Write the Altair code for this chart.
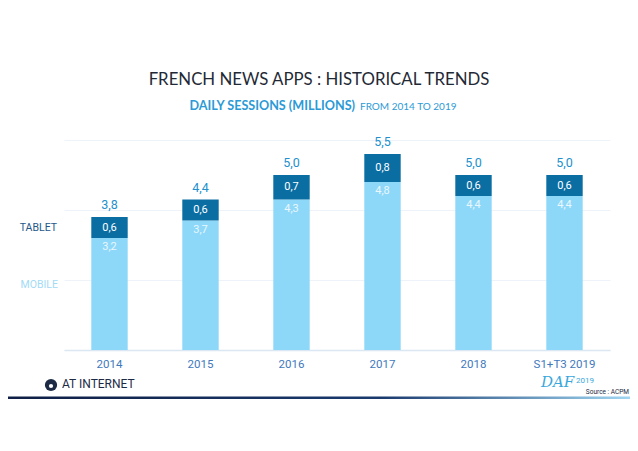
import altair as alt
import pandas as pd

years = ["2014", "2015", "2016", "2017", "2018", "S1+T3 2019"]
mobile = [3.2, 3.7, 4.3, 4.8, 4.4, 4.4]
tablet = [0.6, 0.6, 0.7, 0.8, 0.6, 0.6]
total = [3.8, 4.4, 5.0, 5.5, 5.0, 5.0]

df = pd.DataFrame({"year": years, "mobile": mobile, "tablet": tablet, "total": total})

C_MOB = "#8dd8f8"
C_TAB = "#0b6ea3"
C_TOT = "#2290cd"
C_YEAR = "#3f79bd"
NUMFONT = "Roboto"

base = alt.Chart(df).transform_calculate(
    top="datum.mobile + datum.tablet",
    mid="datum.mobile + datum.tablet / 2",
    lm="replace(format(datum.mobile, '.1f'), '.', ',')",
    lt="replace(format(datum.tablet, '.1f'), '.', ',')",
    ltot="replace(format(datum.total, '.1f'), '.', ',')",
)

xenc = alt.X(
    "year:N",
    sort=years,
    scale=alt.Scale(paddingInner=0.6, paddingOuter=0.3),
    axis=alt.Axis(
        title=None, labelAngle=0, ticks=False, domainColor="#dbe8f4", domainWidth=1.5,
        labelColor=C_YEAR, labelFont=NUMFONT, labelFontSize=11.5, labelPadding=8, grid=False,
    ),
)
yscale = alt.Scale(domain=[0, 6], nice=False)
yaxis = alt.Axis(
    title=None, labels=False, ticks=False, domain=False, grid=True,
    gridColor="#eef3f9", gridWidth=1, values=[0, 1, 2, 3, 4, 5, 6],
)

bars_mob = base.mark_bar(color=C_MOB).encode(
    x=xenc, y=alt.Y("mobile:Q", scale=yscale, axis=yaxis)
)
bars_tab = base.mark_bar(color=C_TAB).encode(
    x=alt.X("year:N", sort=years), y=alt.Y("mobile:Q"), y2="top:Q"
)
lab_tot = base.mark_text(
    font=NUMFONT, fontSize=12.5, color=C_TOT, dy=-12, baseline="middle"
).encode(x=alt.X("year:N", sort=years), y="top:Q", text="ltot:N")
lab_tab = base.mark_text(
    font=NUMFONT, fontSize=11, color="#ffffff", baseline="middle"
).encode(x=alt.X("year:N", sort=years), y="mid:Q", text="lt:N")
lab_mob = base.mark_text(
    font=NUMFONT, fontSize=11, color="#eaf7fe", dy=9, baseline="middle"
).encode(x=alt.X("year:N", sort=years), y="mobile:Q", text="lm:N")


def note(txt, x, y, **kw):
    return alt.Chart(pd.DataFrame({"t": [txt]})).mark_text(**kw).encode(
        x=alt.value(x), y=alt.value(y), text="t:N"
    )


title = note("FRENCH NEWS APPS : HISTORICAL TRENDS", 255, -55, font="Lato",
             fontSize=16.8, color="#1f2a36", align="center", baseline="alphabetic")
sub1 = note("DAILY SESSIONS (MILLIONS)", 291, -30, font="Lato", fontWeight="bold",
            fontSize=12.6, color="#2b9ad6", align="right", baseline="alphabetic")
sub2 = note("FROM 2014 TO 2019", 296, -30, font="Lato", fontSize=10,
            color="#2b9ad6", align="left", baseline="alphabetic")
tab_lbl = note("TABLET", -7, 88, font=NUMFONT, fontSize=10.5, color="#24578a",
               align="right", baseline="middle")
mob_lbl = note("MOBILE", -6, 145, font=NUMFONT, fontSize=10.5, color="#a3dbf5",
               align="right", baseline="middle")

icon = alt.Chart(pd.DataFrame({"t": [1]})).mark_point(
    filled=True, color="#1c2a45", size=150, opacity=1
).encode(x=alt.value(-13), y=alt.value(245))
icon_in = alt.Chart(pd.DataFrame({"t": [1]})).mark_point(
    filled=True, color="#ffffff", size=18, opacity=1
).encode(x=alt.value(-13), y=alt.value(246))
atint = note("AT INTERNET", -2, 244, font="Roboto", fontSize=12, color="#1c2a45",
             align="left", baseline="middle")

line = alt.Chart(pd.DataFrame({"t": [1]})).mark_rect(
    fill=alt.LinearGradient(
        gradient="linear", x1=0, x2=1, y1=0, y2=0,
        stops=[alt.GradientStop(color="#0f1f45", offset=0),
               alt.GradientStop(color="#1a3a6e", offset=0.6),
               alt.GradientStop(color="#9fd6f2", offset=1)],
    )
).encode(x=alt.value(-56), x2=alt.value(566), y=alt.value(256.5), y2=alt.value(259))

daf = note("DAF", 477, 247, font="DejaVu Serif", fontStyle="italic", fontSize=15,
           color="#3aa8dc", align="left", baseline="alphabetic")
daf19 = note("2019", 512, 243, font="Roboto", fontSize=8, color="#3aa8dc",
             align="left", baseline="alphabetic")
source = note("Source : ACPM", 565, 251.5, font="Roboto", fontSize=6.5, color="#1c2a45",
              align="right", baseline="middle")

chart = alt.layer(
    bars_mob, bars_tab, lab_tot, lab_tab, lab_mob,
    title, sub1, sub2, tab_lbl, mob_lbl, icon, icon_in, atint, line, daf, daf19, source,
).properties(
    width=546, height=210,
    background="#ffffff",
    autosize=alt.AutoSizeParams(type="none"),
    padding={"left": 56, "top": 132, "right": 20, "bottom": 93},
).configure_view(strokeWidth=0, stroke="transparent")

chart.save("out.html", embed_options={"renderer": "svg", "actions": False})
